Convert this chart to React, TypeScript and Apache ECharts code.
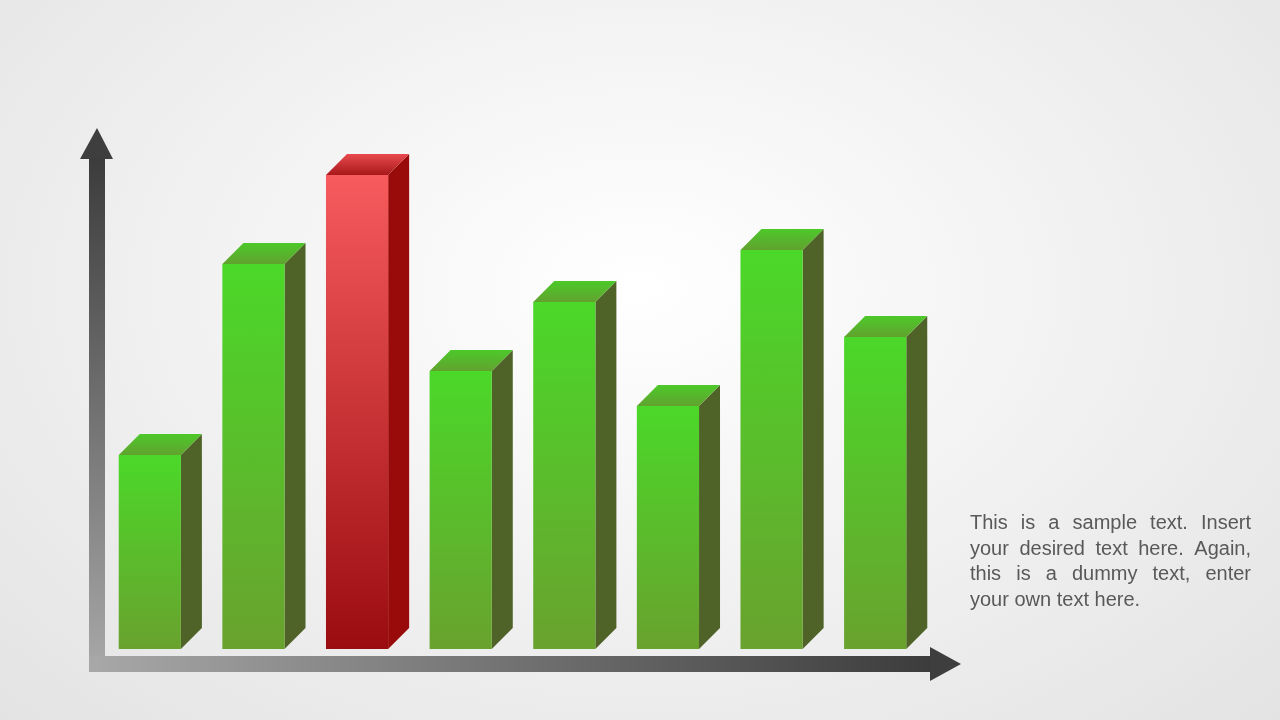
import { useEffect, useRef } from 'react';
import * as echarts from 'echarts';

const categories = ['1', '2', '3', '4', '5', '6', '7', '8'];
const values = [38.8, 77, 94.8, 55.6, 69.4, 48.6, 79.8, 62.4];
const highlighted = [false, false, true, false, false, false, false, false];
const noteLines = [
  'This is a sample text. Insert',
  'your desired text here. Again,',
  'this is a dummy text, enter',
  'your own text here.',
];

const grad = (x2: number, y2: number, from: string, to: string) =>
  new echarts.graphic.LinearGradient(0, 0, x2, y2, [
    { offset: 0, color: from },
    { offset: 1, color: to },
  ]);

// justified paragraph: one text element per word, spaces stretched to fill the column
const justifiedNote = (left: number, right: number, top: number, lineHeight: number, size: number) => {
  const ctx = document.createElement('canvas').getContext('2d')!;
  ctx.font = `${size}px "Liberation Sans"`;
  return noteLines.flatMap((line, li) => {
    const words = line.split(' ');
    const widths = words.map((w) => ctx.measureText(w).width);
    const total = widths.reduce((a, b) => a + b, 0);
    const last = li === noteLines.length - 1;
    const gap = last ? ctx.measureText(' ').width : (right - left - total) / (words.length - 1);
    let x = left;
    return words.map((w, k) => {
      const el = {
        type: 'text',
        x,
        y: top + li * lineHeight,
        style: {
          text: w,
          fill: '#595959',
          fontSize: size,
          fontFamily: 'Liberation Sans',
          verticalAlign: 'middle',
        },
      };
      x += widths[k] + gap;
      return el;
    });
  });
};

const App: React.FC = () => {
  const divRef = useRef<HTMLDivElement | null>(null);

  useEffect(() => {
    if (!divRef.current) return;
    const chart = echarts.init(divRef.current, undefined, { renderer: 'svg' });

    chart.setOption({
      animation: false,
      grid: { left: 98, right: 353, top: 149, bottom: 71 },
      xAxis: { type: 'category', data: categories, show: false },
      yAxis: { type: 'value', min: 0, max: 100, show: false },
      graphic: [
        {
          type: 'rect',
          shape: { x: 89, y: 158, width: 16, height: 514 },
          style: { fill: grad(0, 1, '#3c3c3c', '#a8a8a8') },
          z: 1,
        },
        {
          type: 'polygon',
          shape: { points: [[80, 159], [97, 128], [113, 159]] },
          style: { fill: '#3e3e3e' },
          z: 1,
        },
        {
          type: 'rect',
          shape: { x: 89, y: 656, width: 842, height: 16 },
          style: { fill: grad(1, 0, '#a8a8a8', '#3c3c3c') },
          z: 1,
        },
        {
          type: 'polygon',
          shape: { points: [[930, 647], [961, 664], [930, 681]] },
          style: { fill: '#3e3e3e' },
          z: 1,
        },
        ...justifiedNote(970, 1251, 522, 25.6, 20),
      ],
      series: [
        {
          type: 'custom',
          clip: false,
          encode: { x: 0, y: 1 },
          data: values.map((v, i) => [i, v]),
          renderItem: (params: any, api: any) => {
            const i = api.value(0);
            const v = api.value(1);
            const top = api.coord([i, v]);
            const base = api.coord([i, 0]);
            const band = api.size([1, 0])[0];
            const w = band * 0.6;
            const d = 21;
            const x0 = top[0] - w / 2;
            const x1 = x0 + w;
            const yt = top[1];
            const yb = base[1];
            const red = highlighted[params.dataIndex];
            const front = red
              ? grad(0, 1, '#f75b5e', '#9a0c10')
              : grad(0, 1, '#4bd829', '#69a22e');
            const side = red ? '#990a0a' : '#4f6329';
            const cap = red
              ? grad(0, 1, '#e84a4e', '#a8181b')
              : grad(0, 1, '#4cc92a', '#62a22f');
            return {
              type: 'group',
              children: [
                {
                  type: 'polygon',
                  shape: { points: [[x1, yt], [x1 + d, yt - d], [x1 + d, yb - d], [x1, yb]] },
                  style: { fill: side },
                },
                {
                  type: 'polygon',
                  shape: { points: [[x0, yt], [x0 + d, yt - d], [x1 + d, yt - d], [x1, yt]] },
                  style: { fill: cap },
                },
                {
                  type: 'rect',
                  shape: { x: x0, y: yt, width: w, height: yb - yt },
                  style: { fill: front },
                },
              ],
            };
          },
        },
      ],
    });

    return () => chart.dispose();
  }, []);

  return (
    <div
      ref={divRef}
      style={{
        position: 'fixed',
        left: 0,
        top: 0,
        width: 1280,
        height: 720,
        background:
          'radial-gradient(ellipse at 50% 40%, #ffffff 0%, #f4f4f4 40%, #e3e3e3 100%)',
      }}
    />
  );
};

export default App;
